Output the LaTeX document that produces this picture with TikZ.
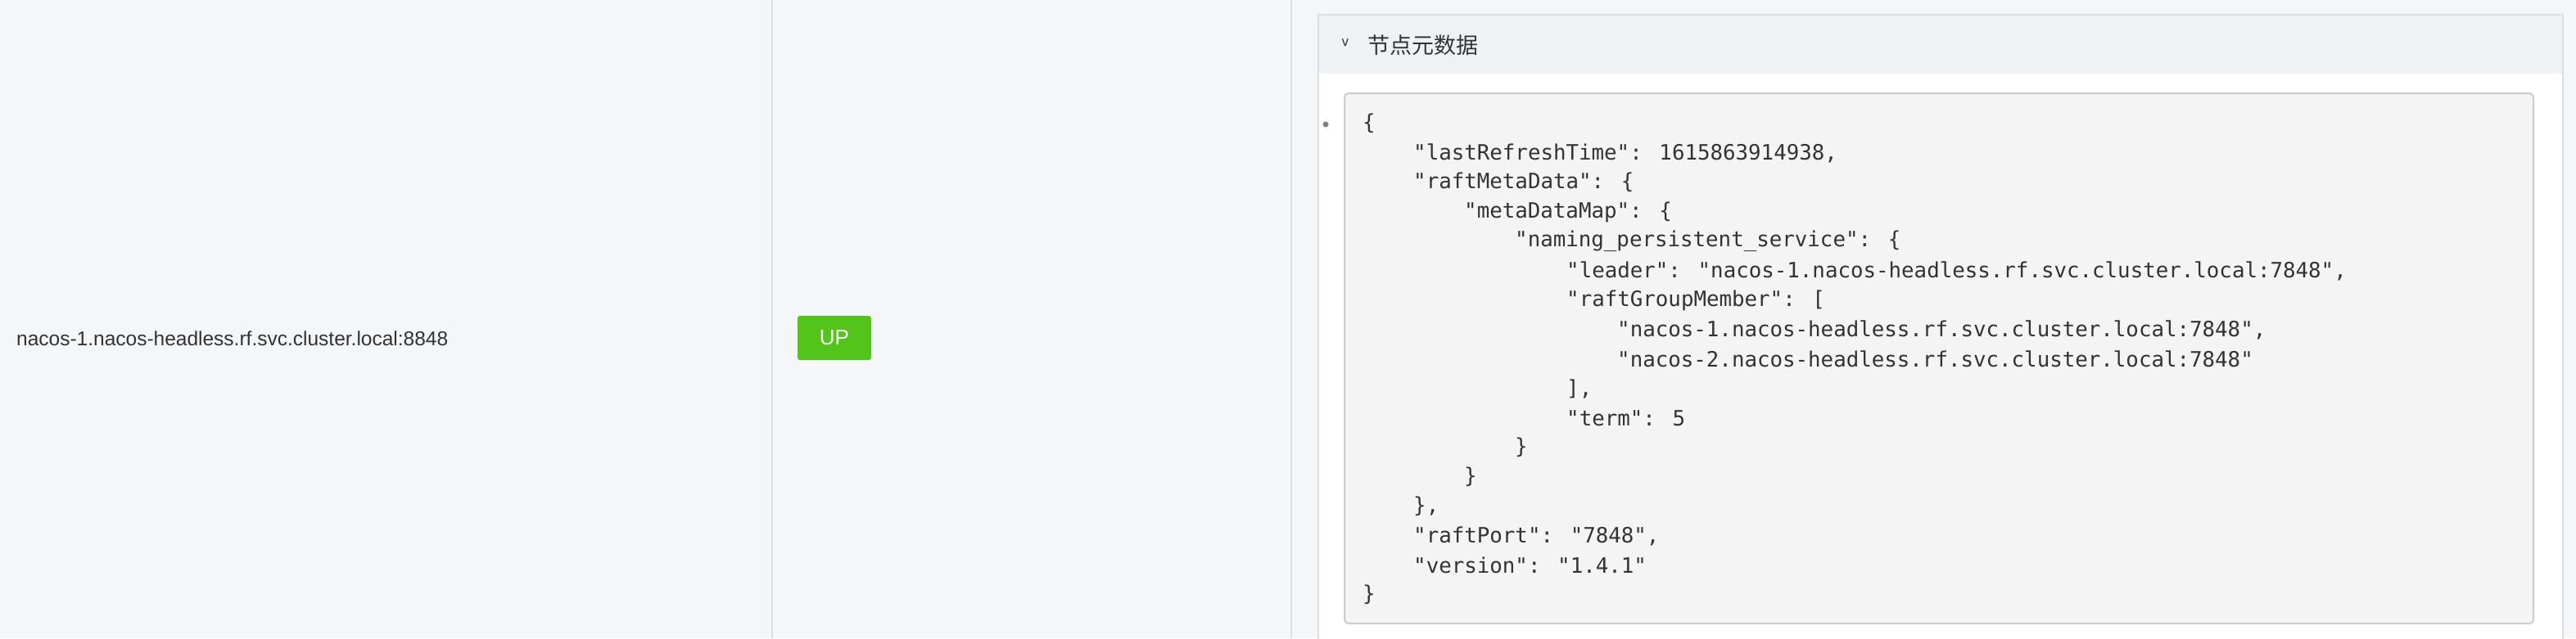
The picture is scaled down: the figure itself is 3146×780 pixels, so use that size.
\documentclass[tikz,border=0pt]{standalone}
\usepackage{fontspec}
\setmainfont{Liberation Sans}
\newfontfamily\cjk{Noto Sans CJK SC}
\newfontfamily\codefont{DejaVu Sans Mono}
\definecolor{bg}{HTML}{F5F6F8}
\definecolor{hdr}{HTML}{F0F1F4}
\definecolor{codebg}{HTML}{F4F4F4}
\definecolor{codeborder}{HTML}{CCCCCC}
\definecolor{sep}{HTML}{DCDEE2}
\definecolor{upgreen}{HTML}{52C41A}
\definecolor{txt}{HTML}{333333}
\begin{document}
\begin{tikzpicture}[x=1pt,y=-1pt,
  code/.style={anchor=west,inner sep=0,text=txt,font=\codefont\fontsize{25.8}{30}\selectfont}]
\useasboundingbox (0,0) rectangle (3146,780);
\fill[bg] (0,0) rectangle (3146,780);
\draw[sep,line width=2] (943,0) -- (943,780);
\draw[sep,line width=2] (1577,0) -- (1577,780);
\node[anchor=west,inner sep=0,text=txt,font=\fontsize{24.5}{28}\selectfont] (host) at (20,414) {nacos-1.nacos-headless.rf.svc.cluster.local:8848};
\node[fill=upgreen,rounded corners=3,minimum width=90,minimum height=54,inner sep=0,text=white,font=\fontsize{26}{30}\selectfont] (up) at (1019,413) {UP};
% panel
\fill[white] (1610,18) rectangle (3130,782);
\fill[hdr] (1610,18) rectangle (3130,90);
\draw[sep,line width=2] (1610,782) -- (1610,18) -- (3130,18) -- (3130,782);
\node[anchor=center,inner sep=0,font=\fontsize{16}{16}\selectfont,text=txt] (chev) at (1643,52) {\codefont v};
\node[anchor=west,inner sep=0,text=txt,font=\cjk\fontsize{27}{30}\selectfont] (title) at (1670,55) {节点元数据};
\draw[codeborder,fill=codebg,line width=2,rounded corners=5] (1642,114) rectangle (3094,762);
\fill[gray] (1619,152) circle (3.5);
\node[code] (l1) at (1664,151) {\{};
\node[code] (l2) at (1726,187) {"lastRefreshTime": 1615863914938,};
\node[code] (l3) at (1726,223) {"raftMetaData": \{};
\node[code] (l4) at (1788,259) {"metaDataMap": \{};
\node[code] (l5) at (1850,295) {"naming\_persistent\_service": \{};
\node[code] (l6) at (1913,331) {"leader": "nacos-1.nacos-headless.rf.svc.cluster.local:7848",};
\node[code] (l7) at (1913,367) {"raftGroupMember": [};
\node[code] (l8) at (1975,403) {"nacos-1.nacos-headless.rf.svc.cluster.local:7848",};
\node[code] (l9) at (1975,439) {"nacos-2.nacos-headless.rf.svc.cluster.local:7848"};
\node[code] (l10) at (1913,475) {],};
\node[code] (l11) at (1913,511) {"term": 5};
\node[code] (l12) at (1850,547) {\}};
\node[code] (l13) at (1788,583) {\}};
\node[code] (l14) at (1726,619) {\},};
\node[code] (l15) at (1726,655) {"raftPort": "7848",};
\node[code] (l16) at (1726,691) {"version": "1.4.1"};
\node[code] (l17) at (1664,727) {\}};
\end{tikzpicture}
\end{document}
